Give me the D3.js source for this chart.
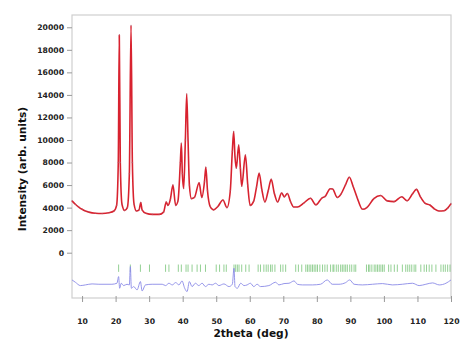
<!DOCTYPE html>
<html><head><meta charset="utf-8">
<script src="https://cdn.jsdelivr.net/npm/d3@7"></script>
<style>html,body{margin:0;padding:0;background:#fff;}svg{display:block;}</style>
</head><body>
<svg id="c" width="474" height="347"></svg>
<script>
// ---- data ----
const twoTheta = [7.0,8.0,9.0,10.0,11.0,12.0,14.0,16.0,18.0,19.5,20.3,20.8,21.1,21.4,21.9,22.7,23.5,24.1,24.6,25.0,25.5,26.2,27.0,27.5,27.9,29.0,31.0,33.0,34.3,35.1,35.6,36.3,37.1,37.9,38.6,39.3,39.6,39.9,40.3,40.8,41.2,41.6,42.0,42.6,43.5,44.9,45.7,46.5,46.9,47.4,48.2,49.2,50.5,52.0,53.2,54.2,54.8,55.2,55.6,56.0,56.7,57.2,57.6,58.7,59.4,60.1,61.2,62.0,62.8,63.6,64.5,65.5,66.4,67.3,68.3,69.5,70.3,71.2,72.2,73.1,74.2,76.1,78.1,79.7,81.5,82.5,84.0,84.7,86.1,87.2,88.5,89.7,90.8,92.0,93.6,95.0,97.0,99.0,101.0,103.0,105.3,106.9,108.5,109.7,110.8,112.2,113.7,115.0,116.4,117.9,119.0,120.0];
const intensity = [4600,4300,4050,3850,3700,3600,3500,3480,3550,3700,4200,8000,19300,8000,4300,3750,4000,7000,20150,8000,4300,3700,3800,4450,3800,3500,3400,3400,3600,4500,4200,4700,6000,4200,4600,8000,9700,7000,5700,10000,14080,10000,6000,4800,4900,6200,4900,6300,7580,5500,4100,3800,4100,4680,4000,5500,9000,10740,8500,7500,9560,7500,5900,8670,6000,4200,4600,5800,7040,5600,4500,5500,6510,5300,4500,5300,4950,5250,4500,4050,4050,4400,4830,4250,4850,5000,5680,5650,4900,5200,6000,6700,5900,4900,3850,4030,4800,5080,4600,4530,4970,4610,5200,5620,5000,4400,4230,3900,3700,3720,3950,4350];

const reflections = [20.9,24.4,27.4,30.1,34.9,35.9,38.7,39.6,41.0,41.6,42.8,44.3,45.3,46.8,50.0,51.0,52.3,53.0,55.3,55.8,56.3,56.8,57.6,58.8,59.8,62.5,63.2,
  64.2,64.9,65.5,66.2,66.7,67.5,69.2,69.9,70.7,73.7,74.5,75.5,76.7,77.2,77.7,78.2,78.7,79.2,79.7,80.2,80.9,81.7,82.4,83.1,84.1,84.8,85.1,85.8,86.4,87.1,87.6,88.1,88.6,89.1,89.8,90.4,91.1,91.6,
  94.8,95.4,95.8,96.4,97.1,97.6,98.1,98.6,99.1,99.6,100.1,101.4,102.1,103.1,104.0,105.5,106.5,107.1,107.7,108.3,109.0,109.5,111.0,112.0,112.7,113.5,114.3,115.5,117.0,117.7,118.3,119.0,119.7];

const diffTheta = [7.0,8.0,9.5,11.0,13.0,15.0,18.9,20.4,20.9,21.2,21.7,22.4,23.4,24.1,24.4,24.7,25.4,26.4,27.4,27.9,28.9,30.9,33.9,34.9,35.9,36.9,37.9,38.9,39.8,40.6,41.3,42.0,42.8,43.8,44.8,45.8,46.8,47.8,48.8,49.8,50.8,52.3,53.8,54.8,55.3,55.6,56.3,57.3,58.3,59.2,60.2,61.2,62.2,63.2,65.7,67.7,68.7,70.2,71.7,73.2,74.2,75.7,78.7,81.1,83.1,84.6,86.6,88.6,89.8,91.1,93.6,96.6,99.6,102.5,105.5,108.5,110.5,112.5,114.5,116.5,118.5,120.0];
const diffValue = [385,178,-118,-59,30,0,0,89,680,-355,89,-118,0,-60,1570,-355,-207,-503,237,-592,-59,0,0,-118,89,-59,148,-59,296,-355,-651,237,-207,89,-118,89,-207,0,-59,89,-118,30,-207,0,1420,-207,-355,89,-118,-59,89,-207,0,-207,-118,178,-59,59,89,296,0,-59,-59,0,385,0,0,148,385,0,-59,0,59,-59,0,89,-118,0,118,-59,89,385];
const diffOffset = -2800;

const xTicks = [10,20,30,40,50,60,70,80,90,100,110,120];
const yTicks = [0,2000,4000,6000,8000,10000,12000,14000,16000,18000,20000];
const xTitle = "2theta (deg)";
const yTitle = "Intensity (arb. units)";

// ---- layout ----
const svg = d3.select("#c");
const L = 72, T = 15, R = 451, B = 298;
const x = d3.scaleLinear().domain([7,120]).range([L,R]);
const y = d3.scaleLinear().domain([-4020,21090]).range([B,T]);
const font = "'DejaVu Sans', Verdana, sans-serif";

// frame
svg.append("rect").attr("x",L).attr("y",T).attr("width",R-L).attr("height",B-T)
  .attr("fill","none").attr("stroke","#cfcfcf").attr("stroke-width",1.2);

// y axis
const yAx = svg.append("g").attr("transform",`translate(${L},0)`)
  .call(d3.axisLeft(y).tickValues(yTicks).tickSize(5).tickPadding(3).tickFormat(d3.format("d")));
yAx.select(".domain").remove();
yAx.selectAll("line").attr("stroke","#999");
yAx.selectAll("text").attr("font-family",font).attr("font-weight","bold").attr("font-size",7.7).attr("fill","#222");

// x axis
const xAx = svg.append("g").attr("transform",`translate(0,${B})`)
  .call(d3.axisBottom(x).tickValues(xTicks).tickSize(4));
xAx.select(".domain").remove();
xAx.selectAll("line").attr("stroke","#999").attr("y1",-2);
xAx.selectAll("text").attr("y",23.5).attr("dy","0.35em")
  .attr("font-family",font).attr("font-weight","bold").attr("font-size",7.7).attr("fill","#222");

// titles
svg.append("text").attr("x",251).attr("y",336.5).attr("text-anchor","middle")
  .attr("font-family",font).attr("font-weight","bold").attr("font-size",10.6).attr("fill","#111").text(xTitle);
svg.append("text").attr("transform","translate(26,169) rotate(-90)").attr("text-anchor","middle")
  .attr("font-family",font).attr("font-weight","bold").attr("font-size",10.6).attr("fill","#111").text(yTitle);

// reflection markers
svg.append("g").selectAll("line").data(reflections).join("line")
  .attr("x1",d=>x(d)).attr("x2",d=>x(d))
  .attr("y1",y(-1050)).attr("y2",y(-1700))
  .attr("stroke","#3daa3d").attr("stroke-opacity",0.55).attr("stroke-width",1);

// difference curve
const diff = diffTheta.map((t,i)=>[t,diffValue[i]+diffOffset]);
svg.append("path").datum(diff)
  .attr("d",d3.line().x(d=>x(d[0])).y(d=>y(d[1])).curve(d3.curveMonotoneX))
  .attr("fill","none").attr("stroke","#8a8ae6").attr("stroke-width",0.9);

// calculated / observed profile
const prof = twoTheta.map((t,i)=>[t,intensity[i]]);
svg.append("path").datum(prof)
  .attr("d",d3.line().x(d=>x(d[0])).y(d=>y(d[1])).curve(d3.curveMonotoneX))
  .attr("fill","none").attr("stroke","#d8222f").attr("stroke-width",1.6).attr("stroke-linejoin","round");
svg.append("g").selectAll("circle").data(prof).join("circle")
  .attr("cx",d=>x(d[0])).attr("cy",d=>y(d[1])).attr("r",0.8)
  .attr("fill","#b06070").attr("opacity",0.6);
</script>
</body></html>
